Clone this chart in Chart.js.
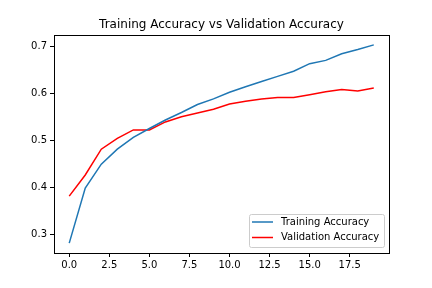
<!DOCTYPE html>
<html>
<head>
<meta charset="utf-8">
<script src="https://cdn.jsdelivr.net/npm/chart.js@4"></script>
<style>
  html, body { margin: 0; padding: 0; background: #fff; }
  #wrap { width: 432px; height: 288px; }
</style>
</head>
<body>
<div id="wrap"><canvas id="myChart" width="432" height="288"></canvas></div>
<script>
var epochs = [0, 1, 2, 3, 4, 5, 6, 7, 8, 9, 10, 11, 12, 13, 14, 15, 16, 17, 18, 19];
var trainAcc = [0.281, 0.398, 0.449, 0.481, 0.506, 0.525, 0.543, 0.559, 0.576, 0.588,
                0.602, 0.614, 0.625, 0.636, 0.647, 0.663, 0.670, 0.684, 0.693, 0.703];
var valAcc = [0.381, 0.426, 0.481, 0.504, 0.522, 0.522, 0.539, 0.550, 0.558, 0.566,
              0.577, 0.583, 0.588, 0.591, 0.591, 0.597, 0.603, 0.608, 0.605, 0.611];
var xTicks = [0, 2.5, 5, 7.5, 10, 12.5, 15, 17.5];
var yTicks = [0.3, 0.4, 0.5, 0.6, 0.7];
var chartTitle = 'Training Accuracy vs Validation Accuracy';

var font = 'DejaVu Sans';

function points(values) {
    return epochs.map(function (e, i) { return { x: e, y: values[i] }; });
}

// matplotlib style frame, title over the axes and legend inside the axes
var framePlugin = {
    id: 'frame',
    afterDraw: function (chart) {
        var ctx = chart.ctx;
        var a = chart.chartArea;
        ctx.save();
        ctx.strokeStyle = '#000';
        ctx.lineWidth = 1;
        ctx.strokeRect(Math.round(a.left) + 0.5, Math.round(a.top) + 0.5,
                       Math.round(a.right - a.left), Math.round(a.bottom - a.top));

        ctx.fillStyle = '#000';
        ctx.font = '12px "' + font + '"';
        ctx.textAlign = 'center';
        ctx.textBaseline = 'alphabetic';
        ctx.fillText(chartTitle, (a.left + a.right) / 2, a.top - 7);

        // legend box, lower right
        var w = 135, h = 33;
        var bx = a.right - 5 - w, by = a.bottom - 6 - h;
        ctx.fillStyle = 'rgba(255,255,255,0.8)';
        ctx.strokeStyle = '#cccccc';
        ctx.lineWidth = 1;
        ctx.beginPath();
        ctx.roundRect(bx + 0.5, by + 0.5, w, h, 2);
        ctx.fill();
        ctx.stroke();
        ctx.font = '10px "' + font + '"';
        ctx.textAlign = 'left';
        ctx.textBaseline = 'middle';
        chart.data.datasets.forEach(function (ds, i) {
            var ly = by + 8 + i * 15.5;
            ctx.strokeStyle = ds.borderColor;
            ctx.lineWidth = 1.5;
            ctx.beginPath();
            ctx.moveTo(bx + 3, ly);
            ctx.lineTo(bx + 24, ly);
            ctx.stroke();
            ctx.fillStyle = '#000';
            ctx.fillText(ds.label, bx + 32, ly);
        });
        ctx.restore();
    }
};

var canvas = document.getElementById('myChart');
var ctx = canvas.getContext('2d');

var myChart = new Chart(ctx, {
    type: 'line',
    data: {
        datasets: [{
            label: 'Training Accuracy',
            data: points(trainAcc),
            borderColor: '#1f77b4',
            borderWidth: 1.5,
            pointRadius: 0,
            tension: 0,
            fill: false
        }, {
            label: 'Validation Accuracy',
            data: points(valAcc),
            borderColor: '#ff0000',
            borderWidth: 1.5,
            pointRadius: 0,
            tension: 0,
            fill: false
        }]
    },
    options: {
        responsive: false,
        animation: false,
        devicePixelRatio: 1,
        layout: { padding: { left: 0, right: 43, top: 35, bottom: 0 } },
        plugins: {
            legend: { display: false },
            tooltip: { enabled: false },
            title: { display: false }
        },
        scales: {
            x: {
                type: 'linear',
                min: -0.95,
                max: 19.95,
                afterBuildTicks: function (scale) {
                    scale.ticks = xTicks.map(function (v) { return { value: v }; });
                },
                afterFit: function (scale) { scale.height = 35; },
                grid: { display: true, drawOnChartArea: false, drawTicks: true, tickLength: 4, color: '#000' },
                border: { display: true, color: '#000' },
                ticks: {
                    color: '#000',
                    font: { family: font, size: 10 },
                    padding: 2,
                    maxRotation: 0,
                    autoSkip: false,
                    callback: function (v) { return v.toFixed(1); }
                }
            },
            y: {
                type: 'linear',
                min: 0.26,
                max: 0.724,
                afterBuildTicks: function (scale) {
                    scale.ticks = yTicks.map(function (v) { return { value: v }; });
                },
                afterFit: function (scale) { scale.width = 54; },
                grid: { display: true, drawOnChartArea: false, drawTicks: true, tickLength: 4, color: '#000' },
                border: { display: true, color: '#000' },
                ticks: {
                    color: '#000',
                    font: { family: font, size: 10 },
                    padding: 3,
                    autoSkip: false,
                    callback: function (v) { return v.toFixed(1); }
                }
            }
        }
    },
    plugins: [framePlugin]
});
</script>
</body>
</html>
